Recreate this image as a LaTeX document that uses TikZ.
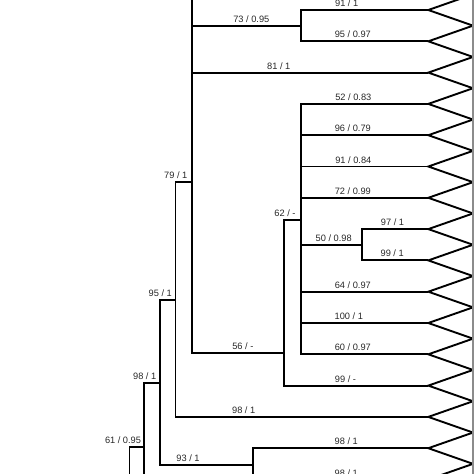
\documentclass[tikz,border=0pt]{standalone}
\usepackage{fontspec}
\setmainfont{Liberation Sans}
\usetikzlibrary{positioning}
\tikzset{
branch/.style={line width=1.9pt, color=black},
tip_edge/.style={line width=1.9pt, color=black},
tip_base/.style={line width=2.5pt, color=black!45},
support/.style={anchor=base, inner sep=0pt, text=black!85, font=\fontsize{9.25}{11}\selectfont}
}
\begin{document}
\begin{tikzpicture}[x=1pt, y=-1pt]
    \useasboundingbox (0,0) rectangle (474,474);
    \clip (0,0) rectangle (474,474);

    % collapsed clades
    \foreach \k/\ty in {1/10.0, 2/41.3, 3/72.6, 4/103.9, 5/135.2, 6/166.5, 7/197.8, 8/229.1,
                        9/260.4, 10/291.7, 11/323.0, 12/354.3, 13/385.6, 14/416.9, 15/448.2, 16/479.5}{
        \coordinate (l\k) at (428.3,\ty);
        \draw[tip_edge] ([shift={(43.7,-15.3)}]l\k) -- (l\k) -- ([shift={(43.7,15.3)}]l\k);
    }
    \coordinate (base_top) at (472.8,-10);
    \coordinate (base_bot) at (472.8,490);
    \draw[tip_base] (base_top) -- (base_bot);

    % internal nodes
    \coordinate (nA) at (129.5,447.3);
    \coordinate (nB) at (144.3,447.3);
    \coordinate (nC) at (160.3,383.3);
    \coordinate (nD) at (175.5,300.0);
    \coordinate (nE) at (253.3,465.0);
    \coordinate (nF) at (191.7,182.3);
    \coordinate (nG) at (300.7,25.7);
    \coordinate (nH) at (284.3,353.3);
    \coordinate (nI) at (300.7,220.0);
    \coordinate (nJ) at (362.3,245.0);
    \coordinate (a_bot) at (129.5,490);
    \coordinate (b_bot) at (144.3,490);
    \coordinate (f_top) at (191.7,-10);

    \draw[branch] (a_bot) -- (nA) -- (nB);
    \draw[branch] (b_bot) -- (nB) |- (nC);
    \draw[branch] (nC) |- (nD);
    \draw[branch] (nC) |- (nE);
    \draw[branch] (nE) |- (l15);
    \draw[branch] (nE) |- (l16);
    \draw[branch] (nD) |- (nF);
    \draw[branch] (nD) |- (l14);
    \draw[branch] (f_top) -- (nF);
    \draw[branch] (nF) |- (nG);
    \draw[branch] (nF) |- (l3);
    \draw[branch] (nF) |- (nH);
    \draw[branch] (nG) |- (l1);
    \draw[branch] (nG) |- (l2);
    \draw[branch] (nH) |- (nI);
    \draw[branch] (nH) |- (l13);
    \draw[branch] (nI) |- (l4);
    \draw[branch] (nI) |- (l5);
    \draw[branch] (nI) |- (l6);
    \draw[branch] (nI) |- (l7);
    \draw[branch] (nI) |- (nJ);
    \draw[branch] (nI) |- (l10);
    \draw[branch] (nI) |- (l11);
    \draw[branch] (nI) |- (l12);
    \draw[branch] (nJ) |- (l8);
    \draw[branch] (nJ) |- (l9);

    % support values
    \node[support] (s91_1) at (346.7,6.5) {91 / 1};
    \node[support] (s95_097) at (352.8,37.8) {95 / 0.97};
    \node[support] (s73) at (251.3,22.2) {73 / 0.95};
    \node[support] (s81) at (278.8,69.1) {81 / 1};
    \node[support] (s52) at (353.3,100.4) {52 / 0.83};
    \node[support] (s96) at (352.8,131.7) {96 / 0.79};
    \node[support] (s91_084) at (353.3,163.0) {91 / 0.84};
    \node[support] (s72) at (352.8,194.3) {72 / 0.99};
    \node[support] (s79) at (175.8,178.8) {79 / 1};
    \node[support] (s62) at (285.0,216.5) {62 / -};
    \node[support] (s50) at (333.7,241.5) {50 / 0.98};
    \node[support] (s97) at (392.5,225.6) {97 / 1};
    \node[support] (s99_1) at (392.2,256.9) {99 / 1};
    \node[support] (s95_1) at (160.3,296.5) {95 / 1};
    \node[support] (s64) at (352.8,288.2) {64 / 0.97};
    \node[support] (s100) at (348.8,319.5) {100 / 1};
    \node[support] (s60) at (352.8,350.8) {60 / 0.97};
    \node[support] (s56) at (242.8,349.8) {56 / -};
    \node[support] (s99) at (345.5,382.1) {99 / -};
    \node[support] (s98_c) at (144.7,379.8) {98 / 1};
    \node[support] (s98_14) at (243.7,413.4) {98 / 1};
    \node[support] (s61) at (123.0,443.8) {61 / 0.95};
    \node[support] (s93) at (188.0,461.5) {93 / 1};
    \node[support] (s98_15) at (346.3,444.7) {98 / 1};
    \node[support] (s98_16) at (346.3,476.0) {98 / 1};
\end{tikzpicture}
\end{document}
